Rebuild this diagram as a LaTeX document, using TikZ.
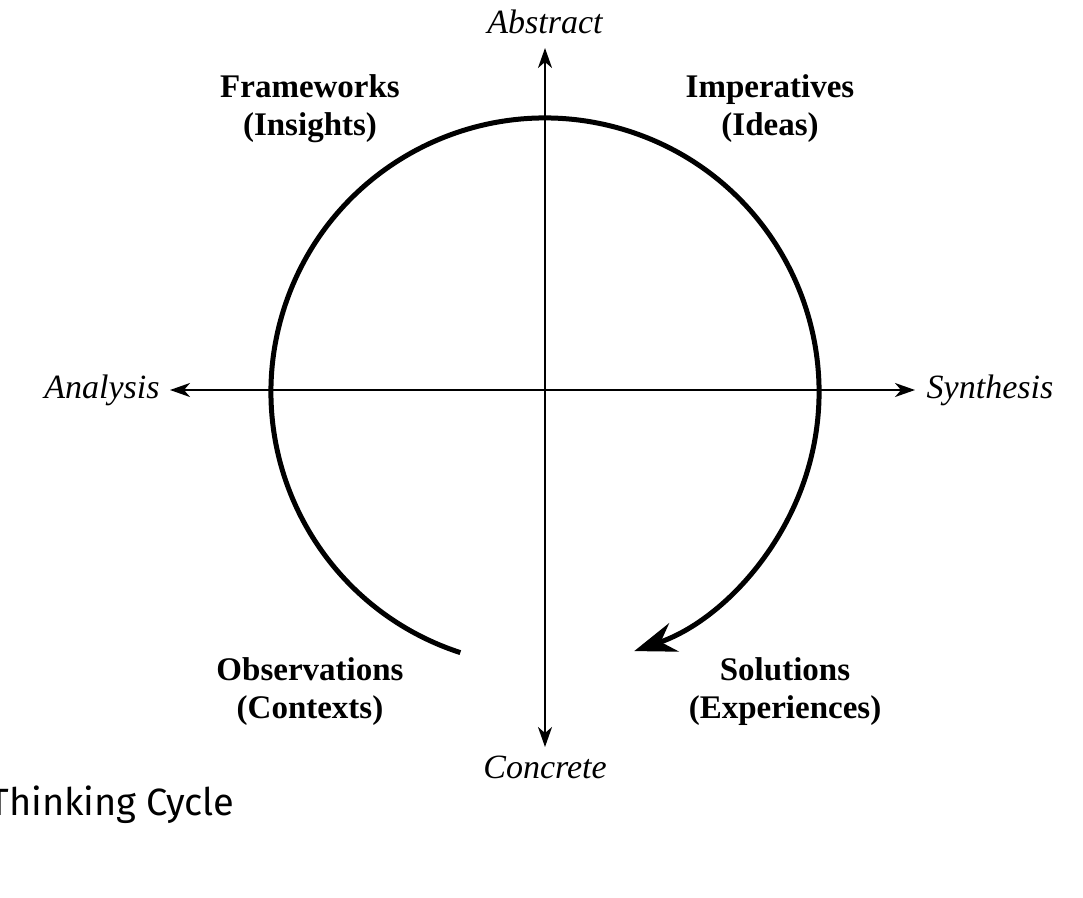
\documentclass[tikz,border=0pt]{standalone}
\usepackage{fontspec}
\setmainfont{Liberation Serif}
\newfontfamily\capfont{Fira Sans}
\usetikzlibrary{arrows.meta}
\begin{document}
\begin{tikzpicture}[x=1pt,y=-1pt,
  axis/.style={line width=1.8pt,-{Stealth[length=20pt,width=14pt,inset=6pt]}},
  big/.style={font=\fontsize{33}{38}\selectfont\bfseries,align=center},
  ital/.style={font=\fontsize{34}{38}\selectfont\itshape}]
\useasboundingbox (0,0) rectangle (1083,897);
\coordinate (c) at (545,392);
\coordinate (L) at (170,390);
\coordinate (R) at (915,390);
\coordinate (T) at (545,48);
\coordinate (B) at (545,747);
\coordinate (o) at (545,390);
\draw[axis] (o) -- (L);
\draw[axis] (o) -- (R);
\draw[axis] (o) -- (T);
\draw[axis] (o) -- (B);
\draw[line width=5pt,-{Stealth[length=42pt,width=30pt,inset=14pt]}]
  ([shift={(108:274)}]c) arc[start angle=108,end angle=431,radius=274];
\node[ital] (ab) at (545,22) {Abstract};
\node[ital] (co) at (545,767) {Concrete};
\node[ital] (an) at (102,390) {Analysis};
\node[ital] (sy) at (990,390) {Synthesis};
\node[big] (fw) at (310,109) {Frameworks\\(Insights)};
\node[big] (im) at (770,109) {Imperatives\\(Ideas)};
\node[big] (ob) at (310,692) {Observations\\(Contexts)};
\node[big] (so) at (785,692) {Solutions\\(Experiences)};
\node[anchor=west,font=\capfont\fontsize{38}{44}\selectfont] (cap) at (-14,805) {Thinking Cycle};
\end{tikzpicture}
\end{document}
